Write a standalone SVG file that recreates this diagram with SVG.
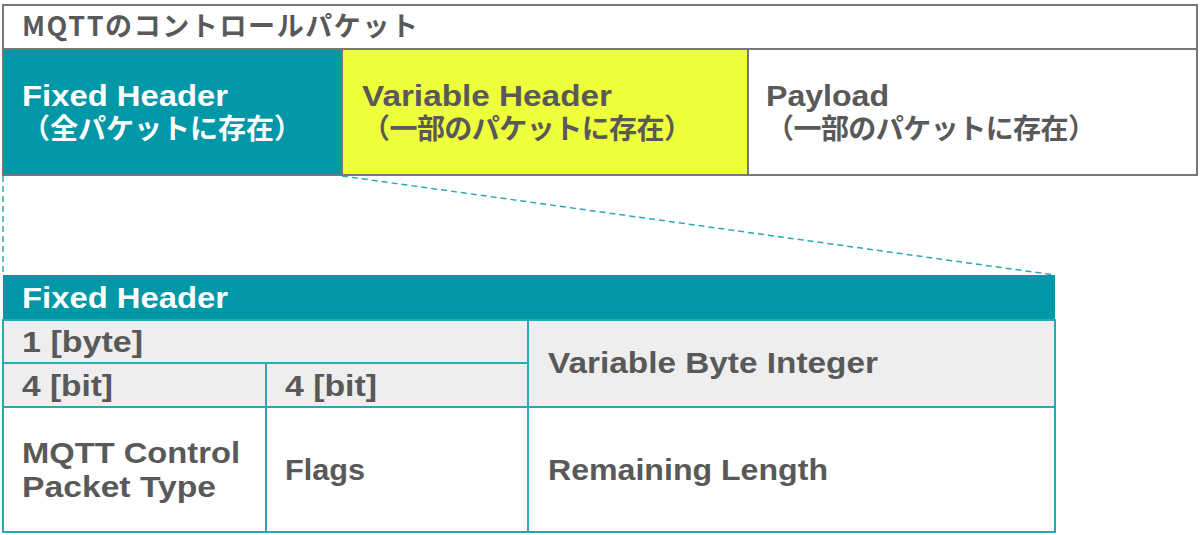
<svg xmlns="http://www.w3.org/2000/svg" width="1200" height="535" viewBox="0 0 1200 535">
<style>
.t{font-family:"Liberation Sans","Noto Sans CJK JP",sans-serif;font-weight:bold;font-size:30px;fill:#595959}
.w{fill:#ffffff}
.jp{font-family:"Noto Sans CJK JP",sans-serif;font-weight:bold;font-size:28px}
.ti{font-size:27px}
.cellTop{stroke:#777777;stroke-width:2}
.cell{stroke:#2AA8B8;stroke-width:2}
.dash{stroke:#2AA8B8;stroke-width:1.5;stroke-dasharray:6 4;fill:none}
</style>
<rect width="1200" height="535" fill="#ffffff"/>
<g id="title">
<rect x="3" y="5" width="1194" height="44" fill="#ffffff" class="cellTop"/>
<text x="22" y="36" class="t jp ti" textLength="396" lengthAdjust="spacing">MQTTのコントロールパケット</text>
</g>
<g id="fixed-header-top">
<rect x="3" y="49" width="339" height="126" fill="#0097A7" class="cellTop"/>
<text x="22" y="106" class="t w" textLength="206" lengthAdjust="spacingAndGlyphs">Fixed Header</text>
<text x="22" y="139" class="t w jp" textLength="280" lengthAdjust="spacing">（全パケットに存在）</text>
</g>
<g id="variable-header-top">
<rect x="342" y="49" width="406" height="126" fill="#EEFF3C" class="cellTop"/>
<text x="362" y="106" class="t" textLength="250" lengthAdjust="spacingAndGlyphs">Variable Header</text>
<text x="362" y="139" class="t jp" textLength="330" lengthAdjust="spacing">（一部のパケットに存在）</text>
</g>
<g id="payload-top">
<rect x="748" y="49" width="449" height="126" fill="#ffffff" class="cellTop"/>
<text x="766" y="106" class="t" textLength="123" lengthAdjust="spacingAndGlyphs">Payload</text>
<text x="766" y="139" class="t jp" textLength="330" lengthAdjust="spacing">（一部のパケットに存在）</text>
</g>
<g id="connectors">
<line x1="3" y1="176" x2="3" y2="275" class="dash"/>
<line x1="342" y1="176" x2="1055" y2="275" class="dash"/>
</g>
<g id="fixed-header-table">
<rect x="3" y="275" width="1052" height="45" fill="#0097A7"/>
<text x="22" y="308" class="t w" textLength="206" lengthAdjust="spacingAndGlyphs">Fixed Header</text>
<rect x="3" y="320" width="525" height="43" fill="#EEEEEE" class="cell"/>
<rect x="3" y="363" width="263" height="44" fill="#EEEEEE" class="cell"/>
<rect x="266" y="363" width="262" height="44" fill="#EEEEEE" class="cell"/>
<rect x="528" y="320" width="527" height="87" fill="#EEEEEE" class="cell"/>
<rect x="3" y="407" width="263" height="125" fill="#ffffff" class="cell"/>
<rect x="266" y="407" width="262" height="125" fill="#ffffff" class="cell"/>
<rect x="528" y="407" width="527" height="125" fill="#ffffff" class="cell"/>
<text x="22" y="352" class="t" textLength="121" lengthAdjust="spacingAndGlyphs">1 [byte]</text>
<text x="22" y="396" class="t" textLength="91" lengthAdjust="spacingAndGlyphs">4 [bit]</text>
<text x="285" y="396" class="t" textLength="92" lengthAdjust="spacingAndGlyphs">4 [bit]</text>
<text x="548" y="373" class="t" textLength="330" lengthAdjust="spacingAndGlyphs">Variable Byte Integer</text>
<text x="22" y="463" class="t" textLength="218" lengthAdjust="spacingAndGlyphs">MQTT Control</text>
<text x="22" y="497" class="t" textLength="194" lengthAdjust="spacingAndGlyphs">Packet Type</text>
<text x="285" y="480" class="t" textLength="80" lengthAdjust="spacingAndGlyphs">Flags</text>
<text x="548" y="480" class="t" textLength="280" lengthAdjust="spacingAndGlyphs">Remaining Length</text>
</g>
</svg>
